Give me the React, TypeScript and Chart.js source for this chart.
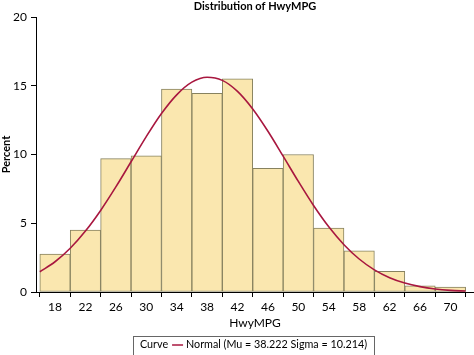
import React, { useEffect, useRef } from "react";
import { Chart, registerables } from "chart.js";

Chart.register(...registerables);

const binMidpoints = [18, 22, 26, 30, 34, 38, 42, 46, 50, 54, 58, 62, 66, 70];
const binPercents = [2.75, 4.5, 9.7, 9.9, 14.75, 14.45, 15.5, 9.0, 10.0, 4.65, 3.0, 1.5, 0.45, 0.35];

const curveX = [16, 18, 20, 22, 24, 26, 28, 30, 32, 34, 36, 38, 40, 42, 44, 46, 48, 50, 52, 54, 56, 58, 60, 62, 64, 66, 68, 70, 72];
const curveY = [1.47, 2.2, 3.18, 4.43, 5.93, 7.64, 9.47, 11.3, 12.98, 14.34, 15.26, 15.62, 15.39, 14.59, 13.31, 11.69, 9.88, 8.04, 6.29, 4.74, 3.44, 2.4, 1.61, 1.04, 0.65, 0.39, 0.22, 0.12, 0.07];

const xTickValues = [18, 22, 26, 30, 34, 38, 42, 46, 50, 54, 58, 62, 66, 70];
const yTickValues = [0, 5, 10, 15, 20];

const titleText = "Distribution of HwyMPG";
const xTitle = "HwyMPG";
const yTitle = "Percent";
const legendLabel = "Curve";
const legendEntry = "Normal (Mu = 38.222 Sigma = 10.214)";

const FONT = "Lato, 'Open Sans', sans-serif";
const CURVE_COLOR = "#A8173F";

const overlayPlugin = {
  id: "overlay",
  afterDraw(chart: any) {
    const ctx = chart.ctx;
    const area = chart.chartArea;
    ctx.save();
    // title
    ctx.fillStyle = "#000";
    ctx.font = `bold 11px ${FONT}`;
    ctx.textAlign = "center";
    ctx.textBaseline = "middle";
    ctx.fillText(titleText, (area.left + area.right) / 2, 6);
    // legend box
    ctx.strokeStyle = "#666";
    ctx.lineWidth = 1;
    ctx.strokeRect(133.5, 336.5, 241, 30);
    let size = 12;
    const x0 = 140;
    let w = 0;
    let we = 0;
    for (; size > 9; size -= 0.25) {
      ctx.font = `${size}px ${FONT}`;
      w = ctx.measureText(legendLabel).width;
      we = ctx.measureText(legendEntry).width;
      if (x0 + w + 18 + we <= 370) break;
    }
    ctx.textAlign = "left";
    ctx.fillText(legendLabel, x0, 345);
    const lx = x0 + w + 4;
    ctx.strokeStyle = CURVE_COLOR;
    ctx.lineWidth = 1.5;
    ctx.beginPath();
    ctx.moveTo(lx, 345);
    ctx.lineTo(lx + 11, 345);
    ctx.stroke();
    ctx.fillText(legendEntry, lx + 14, 345);
    ctx.restore();
  },
};

export default function App() {
  const ref = useRef<HTMLCanvasElement>(null);
  useEffect(() => {
    const chart = new Chart(ref.current as HTMLCanvasElement, {
      data: {
        datasets: [
          {
            type: "line",
            data: curveX.map((x, i) => ({ x, y: curveY[i] })),
            borderColor: CURVE_COLOR,
            borderWidth: 1.6,
            pointRadius: 0,
            tension: 0.4,
            cubicInterpolationMode: "monotone",
            fill: false,
            order: 0,
          } as any,
          {
            type: "bar",
            data: binMidpoints.map((x, i) => ({ x, y: binPercents[i] })),
            backgroundColor: "#FAE7AF",
            borderColor: "#87825F",
            borderWidth: 1,
            borderSkipped: false,
            barPercentage: 1,
            categoryPercentage: 1,
            order: 1,
          } as any,
        ],
      },
      options: {
        animation: false,
        responsive: false,
        layout: { padding: { top: 17, right: 0, left: 0, bottom: 25 } },
        plugins: { legend: { display: false }, tooltip: { enabled: false }, title: { display: false } },
        scales: {
          x: {
            type: "linear",
            min: 15.5,
            max: 73.1,
            offset: false,
            grid: { drawOnChartArea: false, drawTicks: true, tickLength: 5, color: "#000" },
            border: { display: true, color: "#000", width: 1 },
            ticks: { font: { family: FONT, size: 12 }, color: "#000", padding: 3, maxRotation: 0, autoSkip: false },
            afterBuildTicks: (s: any) => {
              s.ticks = xTickValues.map((v) => ({ value: v }));
            },
            title: { display: true, text: xTitle, font: { family: FONT, size: 12 }, color: "#000", padding: { top: 2, bottom: 0 } },
            afterFit: (s: any) => {
              s.height = 38;
            },
          },
          y: {
            min: 0,
            max: 20,
            grid: { drawOnChartArea: false, drawTicks: true, tickLength: 5, color: "#000" },
            border: { display: true, color: "#000", width: 1 },
            ticks: { font: { family: FONT, size: 12 }, color: "#000", padding: 4 },
            afterBuildTicks: (s: any) => {
              s.ticks = yTickValues.map((v) => ({ value: v }));
            },
            title: { display: true, text: yTitle, font: { family: FONT, size: 11, weight: "bold" }, color: "#000", padding: 0 },
            afterFit: (s: any) => {
              s.width = 36;
            },
          },
        },
      } as any,
      plugins: [overlayPlugin],
    });
    return () => chart.destroy();
  }, []);
  return (
    <div style={{ position: "absolute", left: 0, top: 0, width: 474, height: 355, background: "#fff" }}>
      <canvas ref={ref} width={474} height={355} style={{ display: "block" }} />
    </div>
  );
}
